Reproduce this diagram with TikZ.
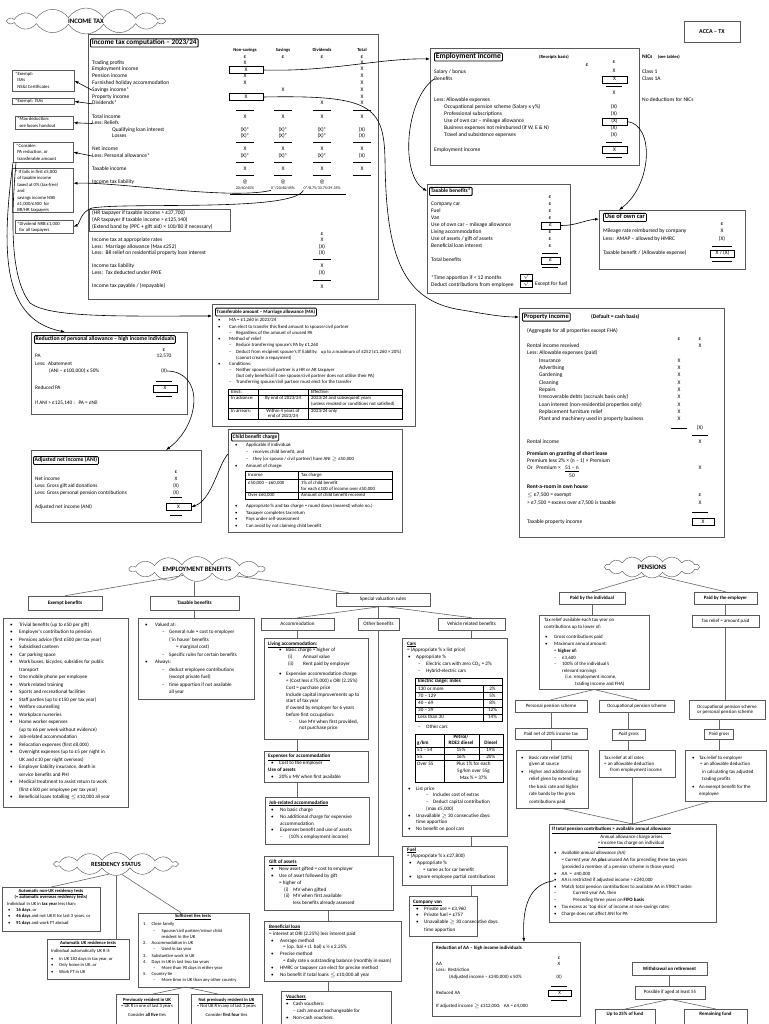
\documentclass[tikz,border=0pt]{standalone}
\usepackage{fontspec}
\setmainfont{Carlito}
\usetikzlibrary{arrows.meta,shapes.symbols}

\newcommand\tfont{\fontsize{5.5}{6}\selectfont}
\newcommand\bul[1][9pt]{\makebox[#1][l]{\textbullet}}
\newcommand\dsh[1][9pt]{\makebox[#1][l]{--}}
% box by its corners (pixels, y down)
\newcommand\boxat[5]{\node[box, minimum width={#4-#2}, minimum height={#5-#3}] (#1) at (#2,#3) {};}
% lines of text at one x, given as y/text
\newcommand\txtlines[4][txt]{\foreach \ya/\ta [count=\i] in {#4} {\node[#1] (#2\i) at (#3,\ya) {\ta};}}
% short rules under a column of figures
\newcommand\colrule[3]{\foreach \ya in {#3} {\draw[line width=0.4pt] ({#1-#2},\ya) -- ({#1+#2},\ya);}}

\tikzset{
  txt/.style={anchor=west, inner sep=0pt, text height=3.4pt, text depth=1pt, font=\tfont},
  num/.style={txt, anchor=center},
  box/.style={draw=black!65, line width=0.5pt, anchor=north west, inner sep=0pt},
  hdr/.style={draw, line width=0.8pt, rounded corners=1pt, anchor=west, inner sep=1.5pt,
    text height=4pt, text depth=1.2pt, font=\bfseries\fontsize{6.5}{7}\selectfont},
  xbox/.style={num, draw, line width=0.5pt, minimum height=7pt},
  tag/.style={draw=black!65, line width=0.5pt, inner sep=1pt, font=\bfseries\tfont},
  arr/.style={-{Latex[length=4pt,width=3pt]}, line width=0.6pt},
  lnk/.style={draw=black!60, line width=0.6pt},
  cld/.style={cloud, cloud ignores aspect, draw=black!70, cloud puffs=14, cloud puff arc=115, inner sep=0pt,
    font=\bfseries\fontsize{6.8}{7}\selectfont},
  tbl/.style={line width=0.4pt},
}

\begin{document}
\begin{tikzpicture}[x=1pt,y=-1pt]
\fill[white] (0,0) rectangle (768,1024);
\useasboundingbox (0,0) rectangle (768,1024);

%% ---------------- income tax ----------------
\node[cld, minimum width=156pt, minimum height=26pt] (itcloud) at (86,21) {INCOME TAX};
\node[draw=black!65, minimum width=56pt, minimum height=21pt, font=\bfseries\fontsize{6}{7}\selectfont] (acca) at (712,31.5) {ACCA -- TX};

\boxat{itc}{88}{34}{378}{299}
\node[hdr, font=\bfseries\fontsize{7.2}{8}\selectfont] (itctitle) at (90,43) {Income tax computation -- 2023/24};
\foreach \xa/\ta [count=\i] in {245/Non-savings, 283/Savings, 322/Dividends, 362/Total}
  \node[num, font=\bfseries\fontsize{4.6}{5}\selectfont] (hd\i) at (\xa,50) {\ta};
\foreach \xa [count=\i] in {245,283,322,362}
  \node[num] (pd\i) at (\xa,57) {£};
\txtlines{itl}{92}{63/Trading profits, 69.8/Employment income, 76.6/Pension income, 83.4/Furnished holiday accommodation,
  90.2/Savings income*, 97/Property income, 103.8/Dividends*, 117/Total income, 123.5/Less:\ Reliefs,
  149/Net income, 156/Less:\ Personal allowance*, 169/Taxable income, 182/Income tax liability}
\txtlines{itr}{112}{130/Qualifying loan interest, 136.5/Losses}
\txtlines[num]{ns}{245}{63/X, 76.6/X, 83.4/X, 117/X, 130/(X)*, 136.5/(X)*, 149/X, 156/(X)*, 169/X, 182/@}
\node[xbox, minimum width=34pt] (empx) at (246,70) {X};
\node[xbox, minimum width=34pt] (propx) at (246,97) {X};
\txtlines[num]{sv}{283}{90.2/X, 117/X, 130/(X)*, 136.5/(X)*, 149/X, 156/(X)*, 169/X, 182/@}
\txtlines[num]{dv}{322}{103.8/X, 117/X, 130/(X)*, 136.5/(X)*, 149/X, 156/(X)*, 169/X, 182/@}
\txtlines[num]{tt}{362}{63/X, 69.8/X, 76.6/X, 83.4/X, 90.2/X, 97/X, 103.8/X, 117/X, 130/(X), 136.5/(X), 149/X, 156/(X), 169/X}
\node[num, font=\fontsize{4}{4.5}\selectfont] (nsrate) at (245,188) {20/40/45\%};
\node[num, font=\fontsize{4}{4.5}\selectfont] (svrate) at (283,188) {0*/20/40/45\%};
\node[num, font=\fontsize{4}{4.5}\selectfont] (dvrate) at (322,188) {0*/8.75/33.75/39.35\%};
\foreach \xa in {245,283,322,362} {\colrule{\xa}{9}{110,142.5,162.5,175.5}}
\draw[line width=0.4pt] (230,194.5) -- (346,194.5);

\boxat{band}{89}{209}{230}{231}
\txtlines{bnd}{92}{213/{(HR taxpayer if taxable income > £37,700)}, 220/{(AR taxpayer if taxable income > £125,140)},
  227/{(Extend band by (PPC + gift aid) × 100\slash 80 if necessary)}}
\txtlines{itb}{92}{240/Income tax at appropriate rates, 247/Less:\ \ Marriage allowance (Max £252),
  253.5/Less:\ \ BR relief on residential property loan interest, 266/Income tax liability,
  273/Less:\ \ Tax deducted under PAYE, 286/Income tax payable \slash\ (repayable)}
\txtlines[num]{itn}{322}{234/£, 240/X, 247/(X), 253.5/(X), 266/X, 273/(X), 287/X}
\colrule{322}{9}{259.5,280}

\begin{scope}
\renewcommand\tfont{\fontsize{4.7}{5}\selectfont}
\boxat{n1}{12}{70}{74}{91}
\txtlines{n1t}{15}{74/*Exempt:, 80.5/\ \ ISAs, 87/\ \ NS\&I Certificates}
\boxat{n2}{12}{98}{74}{104.5}
\node[txt] (n2t) at (15,101.3) {*Exempt:\ \ ISAs};
\boxat{n3}{15}{116}{73}{129}
\txtlines{n3t}{17}{119.5/*Max deduction:, 126/\ \ see losses handout}
\boxat{n4}{13}{142}{73}{162}
\txtlines{n4t}{16}{146/*Consider:, 152.5/{\ PA reduction, or}, 159/\ transferable amount}
\boxat{n5}{12}{168}{73}{212}
\txtlines{n5t}{15}{172/{* If falls in first £5,000}, 178.5/\ \ of taxable income, 185/\ \ taxed at 0\% (tax-free),
  191.5/\ \ and, 198/\ \ savings income NSB, 204/{\ \ £1,000\slash £500\ \ for}, 210/\ \ BR\slash HR taxpayers}
\boxat{n6}{15}{220}{73}{233}
\txtlines{n6t}{17}{224/{*Dividend NRB £1,000}, 230/\ \ for all taxpayers}
\end{scope}

\draw[arr] (itl5.west) -- (n1.east);
\draw[arr] (itl7.west) -- (n2.east);
\draw[arr] (itl9.west) -- (n3.east);
\draw[arr] (itl11.west) -- (n4.east);
\draw[arr] (svrate.south west) .. controls (230,200) and (120,182) .. ([yshift=7pt]n5.east);
\draw[arr] (dvrate.south west) .. controls (292,212) and (130,202) .. (92,208) .. controls (80,212) and (80,224) .. (n6.east);

%% employment income
\boxat{empinc}{430}{48}{639}{165}
\node[hdr, font=\bfseries\fontsize{7.6}{8}\selectfont] (eititle) at (434,57) {Employment income};
\node[num, font=\bfseries\fontsize{4.6}{5}\selectfont] (rcpt) at (554,57) {(Receipts basis)};
\txtlines{eil}{434}{72/Salary \slash\ bonus, 79/Benefits, 100/Less:\ Allowable expenses, 150/Employment income}
\txtlines{eii}{444}{107/Occupational pension scheme (Salary x y\%), 114/Professional subscriptions,
  121/Use of own car -- mileage allowance, 128/{Business expenses not reimbursed (if W, E \& N)},
  135.5/Travel and subsistence expenses}
\txtlines[num]{ein}{614}{62/£, 71/X, 93/X, 107/(X), 114/(X), 128/(X), 135.5/(X)}
\node[num] (eip) at (587,65) {£};
\node[xbox, minimum width=25pt] (eibx) at (614.5,79.5) {X};
\node[xbox, minimum width=25pt] (ecarx) at (614.5,121.5) {(X)};
\node[xbox, minimum width=25pt] (eitot) at (614.5,150) {X};
\colrule{614}{8}{86,142,157}
\txtlines{nic}{642}{57/\textbf{NICs}\quad{\bfseries\fontsize{4.6}{5}\selectfont(see tables)}, 72/Class 1, 79/Class 1A, 100/No deductions for NICs}

%% taxable benefits
\boxat{taxben}{427}{184}{570}{293}
\node[hdr, font=\bfseries\fontsize{5.5}{6}\selectfont] (tbtitle) at (429,191.5) {Taxable benefits*};
\txtlines{tbl}{431}{204/Company car, 211/Fuel, 218/Van, 225/Use of own car -- mileage allowance, 232/Living accommodation,
  239/Use of assets \slash\ gift of assets, 246/Beneficial loan interest, 260/Total benefits,
  278/*Time apportion if < 12 months, 285/Deduct contributions from employee}
\txtlines[num]{tbn}{550}{197/£, 204/£, 211/£, 218/£, 232/£, 239/£, 246/£}
\node[xbox, minimum width=19pt] (tbcar) at (550.5,225.5) {£};
\node[xbox, minimum width=19pt] (tbtot) at (550.5,260.5) {£};
\colrule{550}{8}{253,267.5}
\node[xbox, minimum width=12pt, minimum height=6.5pt] (chk1) at (526,277) {$\surd$};
\node[xbox, minimum width=12pt, minimum height=6.5pt] (chk2) at (526,284) {$\surd$};
\node[txt] (xfuel) at (535,284.5) {Except for fuel};

%% use of own car
\boxat{uoc}{599}{210}{745}{269}
\node[hdr, font=\bfseries\fontsize{6.5}{7}\selectfont] (uoctitle) at (603,217.5) {Use of own car};
\txtlines{uocl}{603}{231/Mileage rate reimbursed by company, 239/Less:\ \ AMAP -- allowed by HMRC,
  253/Taxable benefit \slash\ (Allowable expense)}
\txtlines[num]{uocn}{722}{224/£, 231/X, 239/(X)}
\colrule{722}{10}{246,261.5}
\node[xbox, minimum width=24pt] (uocx) at (722.5,253.5) {X / (X)};

%% property income
\boxat{prop}{519}{308}{724}{537}
\node[hdr, font=\bfseries\fontsize{6.5}{7}\selectfont] (proptitle) at (522,317) {Property income};
\node[txt, font=\bfseries\tfont] (dflt) at (591,317) {(Default = cash basis)};
\txtlines{pl}{527}{331/(Aggregate for all properties except FHA), 346/Rental income received,
  353.5/Less:\ Allowable expenses (paid), 442/Rental income, 454/\textbf{Premium on granting of short lease},
  461/Premium less 2\% × (n -- 1) × Premium, 468.5/Or\ \ \ Premium ×, 487/\textbf{Rent-a-room in own house},
  495/{$\le$ £7,500 = exempt}, 503/{> £7,500 = excess over £7,500 is taxable}, 522/Taxable property income}
\node[num] (p51) at (572,468.5) {\underline{51 -- n}};
\node[num] (p50) at (572,476) {50};
\txtlines{pli}{539}{361/Insurance, 368.3/Advertising, 375.6/Gardening, 383/Cleaning, 390.3/Repairs,
  397.6/Irrecoverable debts (accruals basis only), 405/Loan interest (non-residential properties only),
  412.3/Replacement furniture relief, 419.6/Plant and machinery used in property business}
\txtlines[num]{pc1}{679}{339/£, 361/X, 368.3/X, 375.6/X, 383/X, 390.3/X, 397.6/X, 405/X, 412.3/X, 419.6/X}
\colrule{679}{8}{428}
\txtlines[num]{pc2}{700}{339/£, 346/X, 428/(X), 442/X, 468.5/X, 495/£, 503/X}
\colrule{700}{8}{435,512}
\node[xbox, minimum width=22pt] (propx2) at (703,522) {X};

\draw[arr] (empx.east) .. controls (330,72) and (380,58) .. ([yshift=-11pt]empinc.north west);
\draw[arr] (propx.east) .. controls (370,95) and (384,105) .. (385,160) .. controls (386,250) and (400,298) .. (456,309)
  .. controls (480,313) and (500,317) .. ([yshift=-9pt]prop.north west);
\draw[arr] (eil2.west) .. controls (405,100) and (400,175) .. ([yshift=-7pt]taxben.north west);
\draw[arr] (ecarx.east) .. controls (655,125) and (652,185) .. ([xshift=20pt]uoc.north west);
\draw[arr] (tbcar.east) .. controls (575,226) and (585,220) .. ([yshift=-9pt]uoc.north west);

%% marriage allowance and child benefit
\begin{scope}
\renewcommand\tfont{\fontsize{4.8}{5}\selectfont}
\boxat{tma}{212}{304}{415}{426}
\node[hdr, font=\bfseries\fontsize{4.9}{5}\selectfont, inner sep=1.3pt] (tmatitle) at (215,312) {Transferable amount -- Marriage allowance (MA)};
\txtlines{tmal}{218}{320/{\bul[11pt]MA = £1,260 in 2023\slash 24},
  327/{\bul[11pt]Can elect to transfer this fixed amount to spouse\slash civil partner},
  333/{\hspace*{11pt}\dsh[7pt]Regardless of the amount of unused PA},
  339.5/{\bul[11pt]Method of relief},
  345.5/{\hspace*{11pt}\dsh[7pt]Reduce transferring spouse's PA by £1,260},
  352/{\hspace*{11pt}\dsh[7pt]Deduct from recipient spouse's IT liability:\ \ \ up to a maximum of £252 (£1,260 × 20\%)},
  358/{\hspace*{18pt}(cannot create a repayment)},
  364/{\bul[11pt]Conditions:},
  370/{\hspace*{11pt}\dsh[7pt]Neither spouse\slash civil partner is a HR or AR taxpayer},
  376/{\hspace*{18pt}(but only beneficial if one spouse\slash civil partner does not utilise their PA)},
  382/{\hspace*{11pt}\dsh[7pt]Transferring spouse\slash civil partner must elect for the transfer}}
\draw[tbl] (228,389) rectangle (402,419);
\draw[tbl] (228,395) -- (402,395) (228,408) -- (402,408) (258,389) -- (258,419) (308,389) -- (308,419);
\txtlines{mt1}{231}{392/Elect:, 398.5/In advance:, 411/In arrears:}
\txtlines[num]{mt2}{283}{398.5/By end of 2023\slash 24, 411/Within 4 years of, 416.5/end of 2023\slash 24}
\txtlines{mt3}{311}{392/Effective:, 398.5/2023\slash 24 and subsequent years, 404.5/(unless revoked or conditions not satisfied), 411/2023\slash 24 only}

\boxat{cbc}{228}{429}{402}{532}
\node[hdr, font=\bfseries\fontsize{5.4}{6}\selectfont, inner sep=1.3pt] (cbctitle) at (231,437) {Child benefit charge};
\txtlines{cbl}{235}{445/{\bul[11pt]Applicable if individual:}, 452/{\hspace*{11pt}\dsh[7pt]receives child benefit, and},
  459/{\hspace*{11pt}\dsh[7pt]they (or spouse \slash\ civil partner) have ANI $\ge$ £50,000}, 466/{\bul[11pt]Amount of charge:},
  506/{\bul[11pt]Appropriate \% and tax charge = round down (nearest) whole no.)}, 513/{\bul[11pt]Taxpayer completes tax return},
  519.5/{\bul[11pt]Pays under self-assessment}, 526/{\bul[11pt]Can avoid by not claiming child benefit}}
\draw[tbl] (245,471) rectangle (392,499);
\draw[tbl] (245,479) -- (392,479) (245,492) -- (392,492) (298,471) -- (298,499);
\txtlines{ct1}{248}{475/Income, 483/{£50,000 -- £60,000}, 495.5/{Over £60,000}}
\txtlines{ct2}{301}{475/Tax charge, 483/1\% of child benefit, 489/{for each £100 of income over £50,000}, 495.5/Amount of child benefit received}
\end{scope}

%% personal allowance and ANI
\begin{scope}
\renewcommand\tfont{\fontsize{5.3}{6}\selectfont}
\boxat{redpa}{31}{332}{187}{414}
\node[hdr, font=\bfseries\fontsize{5.7}{6}\selectfont, inner sep=1.3pt] (rptitle) at (34,339.5) {Reduction of personal allowance -- high income individuals};
\txtlines{rpl}{35}{356/PA, 364/Less:\ \ Abatement, 388/Reduced PA, 403/{If ANI > £125,140\ :\ \ \ PA = £Nil}}
\node[txt] (rpab) at (49,371) {(ANI -- £100,000) x 50\%};
\txtlines[num]{rpn}{164}{350/£, 356/{12,570}, 371/(X)}
\colrule{164}{8}{381,396}
\node[xbox, minimum width=24pt] (rpx) at (165,388.5) {X};

\boxat{ani}{31}{450}{201}{522}
\node[hdr, font=\bfseries\fontsize{5.7}{6}\selectfont, inner sep=1.3pt] (anititle) at (33,460.5) {Adjusted net income (ANI)};
\txtlines{anl}{35}{479/Net income, 486/Less:\ Gross gift aid donations, 493/Less:\ Gross personal pension contributions, 507/Adjusted net income (ANI)}
\txtlines[num]{ann}{176}{472/£, 479/X, 486/(X), 493/(X)}
\colrule{176}{6}{497,515.5}
\node[xbox, minimum width=25pt] (anix) at (178.5,507) {X};
\end{scope}

\draw[arr] (n4.south west) .. controls (0,260) and (5,320) .. ([xshift=34pt]redpa.north west);
\draw[arr] ([xshift=3pt]n4.south west) .. controls (10,230) and (12,280) .. (30,303) .. controls (50,318) and (120,316) .. ([yshift=-12pt]tma.north west);
\draw[arr] (rpn3.east) .. controls (205,372) and (200,425) .. ([xshift=135pt]ani.north west);
\draw[arr] ([yshift=-25pt]cbc.north west) .. controls (218,465) and (212,500) .. (anix.east);

%% ---------------- employment benefits ----------------
\begin{scope}
\renewcommand\tfont{\fontsize{5.1}{6}\selectfont}
\node[cld, minimum width=134pt, minimum height=25pt] (ebcloud) at (197,569) {EMPLOYMENT BENEFITS};
\node[tag, minimum width=74pt, minimum height=14pt] (exb) at (65,603) {Exempt benefits};
\node[tag, minimum width=89pt, minimum height=14pt] (txb) at (194.5,603) {Taxable benefits};

\boxat{exl}{3}{618}{128}{807}
\txtlines{exi}{10}{625/\bul Trivial benefits (up to £50 per gift), 632.5/\bul Employer's contribution to pension,
  640/\bul Pensions advice (first £500 per tax year), 647.5/\bul Subsidised canteen, 655/\bul Car parking space,
  662.5/{\bul Work buses, bicycles, subsidies for public}, 670/\hspace*{9pt}transport,
  677.5/\bul One mobile phone per employee, 685/\bul Work related training, 692.5/\bul Sports and recreational facilities,
  700/\bul Staff parties (up to £150 per tax year), 707.5/\bul Welfare counselling, 715/\bul Workplace nurseries,
  722.5/\bul Home worker expenses, 730/\hspace*{9pt}(up to £6 per week without evidence),
  737.5/\bul Job-related accommodation, 745/{\bul Relocation expenses (first £8,000)},
  752.5/\bul Overnight expenses (up to £5 per night in, 760/\hspace*{9pt}UK and £10 per night overseas),
  767.5/{\bul Employer liability insurance, death in}, 775/\hspace*{9pt}service benefits and PHI,
  782.5/\bul Medical treatment to assist return to work, 790/\hspace*{9pt}(first £500 per employee per tax year),
  797.5/{\bul Beneficial loans totalling $\le$ £10,000 all year}}

\boxat{txl}{138}{618}{254}{699}
\txtlines{txi}{145}{625/\bul[10pt]Valued at:, 632.5/\hspace*{17pt}\dsh[7pt]General rule = cost to employer,
  640/\hspace*{24pt}(`in house' benefits, 647.5/\hspace*{31pt}= marginal cost),
  655/\hspace*{17pt}\dsh[7pt]Specific rules for certain benefits, 662.5/\bul[10pt]Always:,
  670/\hspace*{17pt}\dsh[7pt]deduct employee contributions, 677.5/\hspace*{24pt}(except private fuel),
  685/\hspace*{17pt}\dsh[7pt]time apportion if not available, 692.5/\hspace*{24pt}all year}

\node[tag, font=\tfont, minimum width=94pt, minimum height=13pt] (svr) at (383,599.5) {Special valuation rules};
\node[tag, font=\tfont, minimum width=73pt, minimum height=12pt] (acc) at (297.5,624) {Accommodation};
\node[tag, font=\tfont, minimum width=41pt, minimum height=12pt] (oth) at (378.5,624) {Other benefits};
\node[tag, font=\tfont, minimum width=67pt, minimum height=12pt] (veh) at (471.5,624) {Vehicle related benefits};

\boxat{liv}{264}{638}{368}{739}
\txtlines{livl}{268}{644/\underline{\textbf{Living accommodation:}}, 650.5/\hspace*{11pt}\bul[7pt]Basic charge = higher of,
  657/\hspace*{20pt}\makebox[15pt][l]{(i)}Annual value, 664/\hspace*{20pt}\makebox[15pt][l]{(ii)}Rent paid by employer,
  674/\hspace*{11pt}\bul[7pt]Expensive accommodation charge:, 681/{\hspace*{18pt}= (Cost less £75,000) x ORI (2.25\%)},
  688/\hspace*{18pt}Cost = purchase price, 695/\hspace*{18pt}Include capital improvements up to,
  701.5/\hspace*{18pt}start of tax year, 708/\hspace*{18pt}If owned by employer for 6 years,
  715/\hspace*{18pt}before first occupation:, 722/{\hspace*{21pt}\dsh[10pt]Use MV when first provided,},
  728.5/\hspace*{31pt}not purchase price}

\boxat{expa}{264}{751}{368}{782}
\txtlines{expl}{268}{756.5/\underline{\textbf{Expenses for accommodation}}, 763/\hspace*{3pt}\bul[8pt]Cost to the employer,
  770/\textbf{Use of assets}, 777/\hspace*{3pt}\bul[8pt]20\% x MV when first available}

\boxat{jra}{265}{797}{369}{844}
\txtlines{jral}{269}{803/\underline{\textbf{Job-related accommodation}}, 810/\hspace*{2pt}\bul[9pt]No basic charge,
  817/\hspace*{2pt}\bul[9pt]No additional charge for expensive, 824/\hspace*{11pt}accommodation,
  830.5/\hspace*{2pt}\bul[9pt]Expenses benefit and use of assets, 837.5/\hspace*{11pt}\dsh[9pt](10\% x employment income)}

\boxat{gift}{264}{856}{393}{910}
\txtlines{gfl}{269}{862.5/\underline{\textbf{Gift of assets}}, 869/\hspace*{2pt}\bul[8pt]New asset gifted = cost to employer,
  876/\hspace*{2pt}\bul[8pt]Use of asset followed by gift, 883/\hspace*{10pt}= higher of,
  890/\hspace*{15pt}\makebox[9pt][l]{(i)}MV when gifted, 896.5/\hspace*{15pt}\makebox[9pt][l]{(ii)}MV when first available,
  903/\hspace*{24pt}less benefits already assessed}

\boxat{benl}{264}{921}{401}{981}
\txtlines{bll}{269}{927/\underline{\textbf{Beneficial loan}}, 934/= interest at ORI (2.25\%) less interest paid,
  941/\hspace*{2pt}\bul[9pt]Average method, 947.5/\hspace*{14pt}= (op. bal + cl. bal) x ½ x 2.25\%,
  954.5/\hspace*{2pt}\bul[9pt]Precise method, 961/\hspace*{14pt}= daily rate x outstanding balance (monthly in exam),
  968/\hspace*{2pt}\bul[9pt]HMRC or taxpayer can elect for precise method,
  975/{\hspace*{2pt}\bul[9pt]No benefit if total loans $\le$ £10,000 all year}}

\boxat{vouch}{281}{991}{391}{1032}
\txtlines{vol}{286}{997/\underline{\textbf{Vouchers}}, 1004/\bul[7pt]Cash vouchers:, 1011/\hspace*{7pt}-- cash amount exchangeable for,
  1018/\bul[7pt]Non-cash vouchers:}

\boxat{cars}{402}{638}{507}{836}
\txtlines{carl}{407}{644/\underline{\textbf{Cars}}, 650.5/= (Appropriate \% x list price), 657.5/\hspace*{1pt}\bul[8pt]Appropriate \%,
  664.3/\hspace*{11pt}\dsh[8pt]Electric cars with zero CO\textsubscript{2} = 2\%, 671/\hspace*{11pt}\dsh[8pt]Hybrid-electric cars,
  727/\hspace*{11pt}\dsh[8pt]Other cars, 789/\hspace*{1pt}\bul[8pt]List price, 795.7/\hspace*{19pt}\dsh[7pt]Includes cost of extras,
  802.3/\hspace*{19pt}\dsh[7pt]Deduct capital contribution, 809.3/{\hspace*{19pt}(max £5,000)},
  816/\hspace*{1pt}\bul[8pt]Unavailable $\ge$ 30 consecutive days:, 822.7/\hspace*{9pt}time apportion,
  829.7/\hspace*{1pt}\bul[8pt]No benefit on pool cars}
\draw[tbl] (415,678) rectangle (502,721);
\foreach \ya in {685.2,692.4,699.6,706.8,714} \draw[tbl] (415,\ya) -- (502,\ya);
\draw[tbl] (483,685.2) -- (483,721);
\node[txt, font=\bfseries\tfont] (evh) at (418,681.6) {Electric range: miles};
\txtlines{evl}{418}{688.8/130 or more, 696/70 -- 129, 703.2/40 -- 69, 710.4/30 -- 39, 717.6/Less than 30}
\txtlines[num]{evp}{492.5}{688.8/2\%, 696/5\%, 703.2/8\%, 710.4/12\%, 717.6/14\%}
\draw[tbl] (415,734) rectangle (503,782);
\draw[tbl] (415,747) -- (503,747) (415,753.7) -- (503,753.7) (415,760.3) -- (503,760.3) (444,734) -- (444,782) (478.7,734) -- (478.7,760.3);
\node[txt, font=\bfseries\tfont] (g1) at (417,743.5) {g/km};
\node[num, font=\bfseries\tfont] (g2) at (461,737.5) {Petrol/};
\node[num, font=\bfseries\tfont] (g3) at (461,743.5) {RDE2 diesel};
\node[num, font=\bfseries\tfont] (g4) at (490.8,743.5) {Diesel};
\txtlines{gr}{417}{750.3/51 -- 54, 757/55, 764.3/Over 55}
\txtlines[num]{gp}{461}{750.3/15\%, 757/16\%}
\txtlines[num]{gd}{490.8}{750.3/19\%, 757/20\%}
\txtlines[num]{gx}{473.5}{764.3/Plus 1\% for each, 771.5/5g\slash km over 55g, 778/Max \% = 37\%}

\boxat{fuel}{402}{846}{507}{885}
\txtlines{fuell}{407}{850/\underline{\textbf{Fuel}}, 856.7/{= (Appropriate \% x £27,800)}, 863.3/\hspace*{2pt}\bul[8pt]Appropriate \%,
  870/\hspace*{16pt}= same as for car benefit, 877/\hspace*{2pt}\bul[8pt]Ignore employee partial contributions}

\boxat{van}{409}{896}{477}{936}
\txtlines{vanl}{413}{902/\underline{\textbf{Company van}}, 909/{\hspace*{3pt}\bul[8pt]Private use = £3,960},
  915.7/\hspace*{3pt}\bul[8pt]Private fuel = £757, 922.7/\hspace*{3pt}\bul[8pt]Unavailable $\ge$ 30 consecutive days:,
  930/\hspace*{11pt}time apportion}
\end{scope}

\draw[lnk] (ebcloud.205) -- (exb.north);
\draw[lnk] (txb.north |- ebcloud.south) -- (txb.north);
\draw[lnk] (txb.south) -- (txb.south |- txl.north);
\draw[lnk] (ebcloud.-10) -- ([xshift=13pt]svr.north west);
\draw[lnk] (svr.south) -- (acc.north);
\draw[lnk] (svr.south) -- (veh.north);
\draw[lnk] (oth.north |- svr.south) -- (oth.north);
\draw[lnk] (acc.south) -- (acc.south |- liv.north);
\draw[lnk] (acc.south |- liv.south) -- (acc.south |- expa.north);
\draw[lnk] (acc.south |- expa.south) -- (acc.south |- jra.north);
\draw[lnk] (oth.south) -- (oth.south |- gift.north);
\draw[lnk] (gift.south) -- (gift.south |- benl.north);
\draw[lnk] (gift.south |- benl.south) -- (gift.south |- vouch.north);
\draw[lnk] (veh.south) -- (veh.south |- cars.north);
\draw[lnk] (veh.south |- cars.south) -- (veh.south |- fuel.north);
\draw[lnk] (veh.south |- fuel.south) -- (veh.south |- van.north);

%% ---------------- pensions ----------------
\begin{scope}
\renewcommand\tfont{\fontsize{4.9}{5.5}\selectfont}
\node[cld, minimum width=94pt, minimum height=22pt] (pencloud) at (652,567) {PENSIONS};
\node[tag, minimum width=66pt, minimum height=12pt] (pbi) at (592,598) {Paid by the individual};
\node[tag, minimum width=63pt, minimum height=12pt] (pbe) at (725.5,598) {Paid by the employer};

\boxat{trel}{539}{615}{649}{689}
\txtlines{trl}{544}{620.3/Tax relief available each tax year on, 627/contributions up to lower of:,
  637.7/\hspace*{1pt}\bul[9pt]Gross contributions paid, 644.3/\hspace*{1pt}\bul[9pt]Maximum annual amount:,
  651.3/\hspace*{10pt}= \textbf{higher of}:, 658/{\hspace*{10pt}\dsh[8pt]£3,600},
  664.7/\hspace*{10pt}\dsh[8pt]100\% of the individual's, 671/\hspace*{18pt}relevant earnings,
  677.3/{\hspace*{21pt}(i.e. employment income,}, 684/\hspace*{31pt}trading income and FHA)}
\node[tag, font=\tfont, minimum width=67pt, minimum height=12pt] (terp) at (725.5,621) {Tax relief = amount paid};
\node[tag, font=\tfont, minimum width=76pt, minimum height=19pt, align=left] (ops) at (727,709.5) {Occupational pension scheme\\or personal pension scheme};
\node[tag, font=\tfont, minimum width=29pt, minimum height=10.5pt] (pg2) at (719.2,734) {Paid gross};
\boxat{erel}{685}{750}{766}{801}
\txtlines{erl}{692}{758.7/\bul[7pt]Tax relief to employer, 764.7/\hspace*{8pt}= an allowable deduction,
  772/\hspace*{10pt}in calculating tax adjusted, 779.7/\hspace*{10pt}trading profits,
  787.3/\bul[7pt]An exempt benefit for the, 794.7/\hspace*{7pt}employee}

\node[tag, font=\tfont, minimum width=72pt, minimum height=12pt] (pps) at (551,706) {Personal pension scheme};
\node[tag, font=\tfont, minimum width=75pt, minimum height=12pt] (ocs) at (636.8,706) {Occupational pension scheme};
\node[tag, font=\tfont, minimum width=72pt, minimum height=11pt] (pn) at (551,733.7) {Paid net of 20\% income tax};
\node[tag, font=\itshape\tfont, minimum width=33pt, minimum height=11pt] (pg1) at (628.7,734.5) {Paid gross};
\boxat{prel}{516}{750}{588}{808}
\txtlines{prl}{521}{758.7/\bul[8pt]Basic rate relief (20\%), 764.7/\hspace*{8pt}given at source,
  772/\bul[8pt]Higher and additional rate, 779.7/\hspace*{8pt}relief given by extending,
  787.3/\hspace*{8pt}the basic rate and higher, 794.7/\hspace*{8pt}rate bands by the gross, 802.3/\hspace*{8pt}contributions paid}
\boxat{orel}{599}{750}{675}{776.5}
\txtlines{orl}{604}{758.7/Tax relief at all rates, 764.7/= an allowable deduction, 770.7/\hspace*{6pt}from employment income}

\boxat{aac}{549}{824}{716}{921.5}
\node[txt] (aact) at (552,829.7) {\underline{\textbf{If total pension contributions > available annual allowance}}};
\node[num] (aac2) at (631.5,837) {Annual allowance charge arises};
\node[num] (aac3) at (631,843.7) {\underline{= income tax charge on individual}};
\txtlines{aacl}{554}{853/\bul[7.5pt]\textit{Available annual allowance (AA)},
  860.3/\hspace*{7.5pt}= Current year AA \textbf{plus} unused AA for preceding three tax years,
  867/\hspace*{7.5pt}(provided a member of a pension scheme in those years),
  874/{\bul[7.5pt]AA\ \ =\ \ £40,000}, 880.7/{\bul[7.5pt]AA is restricted if adjusted income > £240,000},
  887/\bul[7.5pt]Match total pension contributions to available AA in STRICT order:,
  893.7/{\dsh[19pt]Current year AA, then}, 900.3/\dsh[19pt]Preceding three years on \textbf{FIFO basis},
  907.3/\bul[7.5pt]Tax excess as `top slice' of income at non-savings rates,
  914/\bul[7.5pt]Charge does not affect ANI for PA}

\boxat{redaa}{432}{942}{580}{1016}
\node[txt, font=\bfseries\tfont] (raat) at (436,948) {Reduction of AA -- high income individuals};
\txtlines{ral}{436}{964/AA, 970.3/Less:\ \ Restriction, 993.7/Reduced AA, 1006.7/{If adjusted income $\ge$ £312,000:\ \ \ AA = £4,000}}
\node[txt] (raab) at (449,977) {(Adjusted income -- £240,000) x 50\%};
\txtlines[num]{ran}{559}{958/£, 964.7/X, 977.3/(X)}
\colrule{559}{8}{986.3,1000.3}
\node[xbox, minimum width=23pt, minimum height=6pt] (raax) at (559.7,993.5) {X};

\node[tag, minimum width=75pt, minimum height=13pt] (wor) at (669.5,968.5) {Withdrawal on retirement};
\node[tag, font=\tfont, minimum width=70pt, minimum height=13pt] (pos) at (670,992.5) {Possible if aged at least 55};
\boxat{up25}{595}{1009}{655}{1035}
\boxat{rem}{684}{1009}{747}{1035}
\node[num, font=\bfseries\tfont] (up25t) at (625,1014.5) {Up to 25\% of fund};
\node[num, font=\bfseries\tfont] (remt) at (715.5,1014.5) {Remaining fund};
\end{scope}

\draw[lnk] (pencloud.232) -- (pbi.north);
\draw[lnk] (pencloud.-52) -- (pbe.north);
\draw[lnk] (pbi.south) -- (pbi.south |- trel.north);
\draw[lnk] (pbe.south) -- (terp.north);
\draw[lnk] (terp.south) -- (terp.south |- ops.north);
\draw[lnk] (pg2.north |- ops.south) -- (pg2.north);
\draw[lnk] (pg2.south) -- (pg2.south |- erel.north);
\draw[lnk] (trel.south) -- (pps.north);
\draw[lnk] (trel.south) -- (ocs.north);
\draw[lnk] (pps.south) -- (pps.south |- pn.north);
\draw[lnk] (pn.south) -- (pn.south |- prel.north);
\draw[lnk] (pg1.north |- ocs.south) -- (pg1.north);
\draw[lnk] (pg1.south) -- (pg1.south |- orel.north);
\draw[lnk] ([xshift=10pt]prel.south) -- (aac.north);
\draw[lnk] (aac.north |- orel.south) -- (aac.north);
\draw[lnk] ([xshift=-16pt]erel.south) -- (aac.north);
\draw[arr] (aacl5.west) .. controls (530,884) and (522,905) .. ([xshift=92pt]redaa.north west);
\draw[lnk] (wor.south) -- (wor.south |- pos.north);
\draw[lnk] (pos.south) -- (up25.north);
\draw[lnk] (pos.south) -- (rem.north);

%% ---------------- residency ----------------
\begin{scope}
\renewcommand\tfont{\fontsize{4.6}{5}\selectfont}
\node[cld, minimum width=123pt, minimum height=23pt, font=\bfseries\fontsize{6.3}{7}\selectfont] (rescloud) at (116,864) {RESIDENCY STATUS};
\boxat{nonuk}{2}{887}{100}{931}
\node[num, font=\bfseries\tfont] (nut1) at (51,891.3) {\underline{Automatic non-UK residency tests}};
\node[num, font=\bfseries\tfont] (nut2) at (51,897.3) {(= automatic overseas residency tests)};
\txtlines{nul}{7}{904.7/Individual in UK in \textbf{tax year} less than:, 910.7/{\hspace*{1pt}\bul[8pt]\textbf{16 days}, or},
  916.7/{\hspace*{1pt}\bul[8pt]\textbf{46 days} and not UK R for last 3 years, or}, 923/{\hspace*{1pt}\bul[8pt]\textbf{91 days} and work FT abroad}}
\boxat{ukres}{47}{939}{129}{979}
\node[num, font=\bfseries\tfont] (ukt) at (88,943.5) {\underline{Automatic UK residence tests}};
\txtlines{ukl}{51}{951.3/Individual automatically UK R if:, 959/{\bul[8pt]In UK 183 days in tax year, or},
  965.7/{\bul[8pt]Only home in UK, or}, 972.3/\bul[8pt]Work FT in UK}
\boxat{suff}{138}{912.5}{249}{986.5}
\node[num, font=\bfseries\tfont] (sut) at (193,916.3) {\underline{Sufficient ties tests}};
\txtlines{sul}{143}{924.7/\makebox[8.5pt][l]{1.}Close family, 931.3/\hspace*{10pt}\dsh[8.5pt]Spouse\slash civil partner\slash minor child,
  937.3/\hspace*{18.5pt}resident in the UK, 943.7/\makebox[8.5pt][l]{2.}Accommodation in UK,
  949.7/\hspace*{10pt}\dsh[8.5pt]Used in tax year, 956.3/\makebox[8.5pt][l]{3.}Substantive work in UK,
  962.3/\makebox[8.5pt][l]{4.}Days in UK in last two tax years, 968.7/\hspace*{10pt}\dsh[8.5pt]More than 90 days in either year,
  974.5/\makebox[8.5pt][l]{5.}Country tie, 980.3/\hspace*{10pt}\dsh[8.5pt]More time in UK than any other country}
\boxat{prev}{116}{994}{178}{1032}
\node[num, font=\bfseries\tfont] (pvt) at (147,1000.3) {\underline{Previously resident in UK}};
\node[num] (pv2) at (147,1006.3) {= UK R in one of last 3 years};
\node[num] (pv3) at (147,1015.3) {Consider \textbf{all five} ties};
\boxat{notp}{191}{994}{262}{1032}
\node[num, font=\bfseries\tfont] (npt) at (226.5,1000.3) {\underline{Not previously resident in UK}};
\node[num] (np2) at (226.5,1006.3) {= Not UK R in any of last 3 years};
\node[num] (np3) at (226.5,1015.3) {Consider \textbf{first four} ties};
\end{scope}

\draw[lnk] (rescloud.235) -- (nonuk.north);
\draw[lnk] (rescloud.south) -- (rescloud.south |- ukres.north);
\draw[lnk] (rescloud.-60) -- ([xshift=-13pt]suff.north);
\draw[lnk] ([xshift=-8pt]suff.south) -- ([xshift=6pt]prev.north);
\draw[lnk] ([xshift=-8pt]suff.south) -- ([xshift=-9pt]notp.north);
\end{tikzpicture}
\end{document}
